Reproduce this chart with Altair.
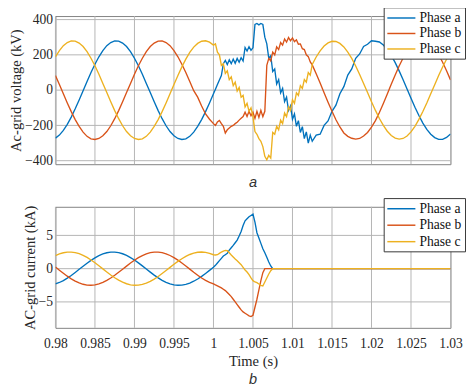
import altair as alt
import pandas as pd

phases = ["Phase a", "Phase b", "Phase c"]
colors = ["#0072BD", "#D95319", "#EDB120"]

# ---- time grids (s) ----
t_pre = [0.98, 0.9805, 0.981, 0.9815, 0.982, 0.9825, 0.983, 0.9835, 0.984, 0.9845,
         0.985, 0.9855, 0.986, 0.9865, 0.987, 0.9875, 0.988, 0.9885, 0.989, 0.9895,
         0.99, 0.9905, 0.991, 0.9915, 0.992, 0.9925, 0.993, 0.9935, 0.994, 0.9945,
         0.995, 0.9955, 0.996, 0.9965, 0.997, 0.9975, 0.998, 0.9985, 0.999, 0.9995]
t_fault = [1.0, 1.00025, 1.0005, 1.00075, 1.001, 1.00125, 1.0015, 1.00175, 1.002, 1.00225,
           1.0025, 1.00275, 1.003, 1.00325, 1.0035, 1.00375, 1.004, 1.00425, 1.0045, 1.00475,
           1.005, 1.00525, 1.0055, 1.00575, 1.006, 1.00625, 1.0065, 1.00675, 1.007, 1.00725,
           1.0075, 1.00775, 1.008, 1.00825, 1.0085, 1.00875, 1.009, 1.00925, 1.0095, 1.00975,
           1.01, 1.01025, 1.0105, 1.01075, 1.011, 1.01125, 1.0115, 1.01175, 1.012, 1.01225]
t_post = [1.0125, 1.013, 1.0135, 1.014, 1.0145, 1.015, 1.0155, 1.016, 1.0165, 1.017,
          1.0175, 1.018, 1.0185, 1.019, 1.0195, 1.02, 1.0205, 1.021, 1.0215, 1.022,
          1.0225, 1.023, 1.0235, 1.024, 1.0245, 1.025, 1.0255, 1.026, 1.0265, 1.027,
          1.0275, 1.028, 1.0285, 1.029, 1.0295, 1.03]
t_end = [1.03]

# ---- AC-grid voltage (kV) ----
va_kv = [-272, -255, -228, -194, -153, -106, -56, -3, 49, 100,
         147, 189, 224, 252, 270, 279, 278, 267, 247, 218,
         181, 138, 90, 38, -14, -66, -116, -162, -202, -235,
         -259, -274, -280, -276, -262, -238, -206, -167, -122, -73,
         -21, 5, 32, 58, 83, 150, 168, 145, 172, 150,
         176, 152, 180, 158, 184, 165, 242, 222, 246, 226,
         240, 372, 378, 370, 378, 372, 300, 262, 180, 195,
         105, 120, 35, 60, -15, 10, -65, -40, -115, -90,
         -165, -135, -205, -173, -240, -207, -275, -237, -300, -255,
         -290, -255, -250, -200, -175, -120, -85, -20, 20, 85,
         120, 180, 205, 248, 260, 280, 277, 273, 256, 230,
         197, 156, 109, 59, 7, -46, -97, -144, -187, -223,
         -250, -269, -279, -279, -268, -249]
vb_kv = [83, 32, -21, -73, -122, -167, -206, -238, -262, -276,
         -280, -274, -259, -235, -202, -162, -116, -66, -14, 38,
         90, 138, 181, 218, 247, 267, 278, 279, 270, 252,
         224, 189, 147, 100, 49, -3, -40, -90, -135, -165,
         -190, -200, -180, -172, -190, -205, -243, -225, -215, -205,
         -200, -190, -182, -170, -160, -150, -125, -150, -120, -145,
         -125, -160, -120, -155, -115, -150, -120, 140, 180, 165,
         215, 200, 245, 230, 270, 255, 290, 272, 298, 280,
         296, 275, 285, 260, 262, 235, 230, 200, 190, 160,
         143, 93, 40, -15, -69, -120, -168, -209, -243, -262,
         -273, -278, -274, -260, -240, -210, -173, -127, -76, -22,
         33, 86, 137, 182, 221, 252, 275, 287, 290, 282,
         264, 237, 201, 158, 110, 58]
vc_kv = [189, 224, 252, 270, 279, 278, 267, 247, 218, 181,
         138, 90, 38, -14, -66, -116, -162, -202, -235, -259,
         -274, -280, -276, -262, -238, -206, -167, -122, -73, -21,
         32, 83, 132, 176, 214, 244, 265, 277, 280, 272,
         255, 262, 215, 200, 140, 150, 95, 110, 60, 75,
         25, 45, -5, 15, -40, -30, -95, -75, -120, -100,
         -150, -235, -250, -275, -290, -320, -375, -395, -370, -385,
         -240, -250, -205, -225, -170, -190, -130, -150, -95, -115,
         -55, -75, -15, -30, 25, 10, 60, 45, 100, 85,
         146, 188, 223, 250, 268, 277, 276, 265, 245, 216,
         180, 137, 89, 38, -14, -66, -115, -161, -200, -233,
         -257, -272, -278, -274, -260, -237, -205, -166, -121, -73,
         -21, 31, 83, 131, 175, 212]

# ---- AC-grid current (kA) ----
ia_ka = [-2.30, -2.08, -1.79, -1.43, -1.02, -0.57, -0.10, 0.37, 0.82, 1.25,
         1.63, 1.96, 2.21, 2.39, 2.49, 2.49, 2.41, 2.24, 1.99, 1.67,
         1.30, 0.87, 0.42, -0.05, -0.52, -0.97, -1.38, -1.75, -2.05, -2.28,
         -2.43, -2.50, -2.47, -2.36, -2.17, -1.89, -1.55, -1.16, -0.72, -0.26,
         0.21, 0.5, 0.85, 1.2, 1.55, 1.9, 2.1, 2.3, 2.8, 3.15,
         3.5, 3.9, 4.3, 4.9, 5.6, 6.5, 7.2, 7.5, 7.8, 8.0,
         8.2, 7.0, 5.4, 4.6, 3.8, 3.0, 2.4, 1.7, 1.0, 0.4,
         0.0, 0.0]
ib_ka = [0.24, -0.23, -0.69, -1.13, -1.53, -1.87, -2.15, -2.35, -2.47, -2.50,
         -2.44, -2.30, -2.07, -1.77, -1.41, -1.00, -0.55, -0.09, 0.38, 0.84,
         1.26, 1.65, 1.97, 2.22, 2.40, 2.49, 2.49, 2.40, 2.23, 1.98,
         1.66, 1.28, 0.86, 0.40, -0.07, -0.54, -0.98, -1.40, -1.76, -2.06,
         -2.29, -2.45, -2.6, -2.75, -2.9, -3.1, -3.3, -3.6, -3.9, -4.2,
         -4.6, -5.0, -5.4, -5.8, -6.2, -6.5, -6.7, -6.9, -7.1, -7.2,
         -7.0, -5.8, -4.6, -3.2, -1.8, -0.6, 0.0, 0.0, 0.0, 0.0,
         0.0, 0.0]
ic_ka = [1.95, 2.21, 2.39, 2.48, 2.49, 2.41, 2.25, 2.00, 1.69, 1.31,
         0.89, 0.44, -0.03, -0.50, -0.95, -1.37, -1.73, -2.04, -2.27, -2.43,
         -2.50, -2.48, -2.37, -2.18, -1.91, -1.57, -1.18, -0.74, -0.28, 0.19,
         0.65, 1.09, 1.49, 1.84, 2.13, 2.34, 2.46, 2.50, 2.45, 2.31,
         2.09, 2.05, 2.1, 2.3, 2.5, 2.65, 2.75, 2.7, 2.4, 2.05,
         1.75, 1.45, 1.2, 0.9, 0.6, 0.2, -0.2, -0.5, -0.9, -1.4,
         -1.8, -2.0, -2.1, -2.3, -2.5, -2.6, -2.0, -1.4, -0.8, -0.3,
         0.0, 0.0]

x_ticks = [0.98, 0.985, 0.99, 0.995, 1.0, 1.005, 1.01, 1.015, 1.02, 1.025, 1.03]
v_ticks = [-400, -200, 0, 200, 400]
i_ticks = [-5, 0, 5]

t_top = t_pre + t_fault + t_post
t_bot = t_pre + t_fault[:31] + t_end


def to_long(t, series):
    rows = []
    for name, vals in zip(phases, series):
        assert len(vals) == len(t), (name, len(vals), len(t))
        for ti, vi in zip(t, vals):
            rows.append({"t": ti, "v": vi, "phase": name})
    return pd.DataFrame(rows)


top_df = to_long(t_top, [va_kv, vb_kv, vc_kv])
bot_df = to_long(t_bot, [ia_ka, ib_ka, ic_ka])

SERIF = "Liberation Serif, Times New Roman, serif"
GRID = "#b3b3b3"
color_scale = alt.Scale(domain=phases, range=colors)
x_scale = alt.Scale(domain=[0.98, 1.03], nice=False, zero=False)


def legend(y, rp):
    return alt.Legend(orient="none", legendX=339, legendY=y, title=None,
                      symbolType="M-1,0H3", symbolSize=210, symbolStrokeWidth=1.5,
                      labelFont=SERIF, labelFontSize=14, labelColor="#111",
                      strokeColor="#333", fillColor="white", padding=3,
                      rowPadding=rp, labelOffset=18, labelLimit=0)


def axis(**kw):
    return alt.Axis(grid=False, domain=False, ticks=False, **kw)


def panel(df, y_ticks, y_domain, x_axis, y_title, leg_y, rp, h, caption, cap_off):
    X = alt.X("t:Q", scale=x_scale, axis=x_axis)
    Y = alt.Y("v:Q", scale=alt.Scale(domain=y_domain, nice=False),
              axis=axis(values=y_ticks, title=y_title, titlePadding=1, labelPadding=3))
    vgrid = alt.Chart(pd.DataFrame({"t": x_ticks})).mark_rule(
        stroke=GRID, strokeWidth=1, opacity=1).encode(x=X)
    hgrid = alt.Chart(pd.DataFrame({"v": y_ticks})).mark_rule(
        stroke=GRID, strokeWidth=1, opacity=1).encode(y=Y)
    lines = alt.Chart(df).mark_line(strokeWidth=1.4, clip=True).encode(
        x=X, y=Y,
        color=alt.Color("phase:N", scale=color_scale, legend=legend(leg_y, rp)),
        order="t:Q",
    )
    return alt.layer(vgrid, hgrid, lines).properties(
        width=408, height=h,
        title=alt.TitleParams(caption, orient="bottom", offset=cap_off))


top = panel(top_df, v_ticks, [-420, 420],
            axis(values=x_ticks, labels=False, title=None),
            "Ac-grid voltage (kV)", -9, 1, 153, "a", 8)
bottom = panel(bot_df, i_ticks, [-8.9, 9.3],
               axis(values=x_ticks, format="~g", title="Time (s)", labelPadding=9,
                    titlePadding=4, labelFlush=False, labelOverlap=False),
               "AC-grid current (kA)", -9, 2, 125, "b", 4)

chart = alt.vconcat(top, bottom, spacing=7).resolve_legend(color="independent").properties(
    padding={"left": 0, "top": -8, "right": 0, "bottom": 0}
).configure_view(stroke="#7f7f7f", strokeWidth=1).configure_axis(
    labelFont=SERIF, labelFontSize=14, labelColor="#262626",
    titleFont=SERIF, titleFontSize=15, titleFontWeight="normal", titleColor="#262626",
).configure_title(font="Liberation Sans", fontStyle="italic", fontSize=15,
                  fontWeight="normal", color="#333")

chart.save("out.html", embed_options={"renderer": "svg", "actions": False})
